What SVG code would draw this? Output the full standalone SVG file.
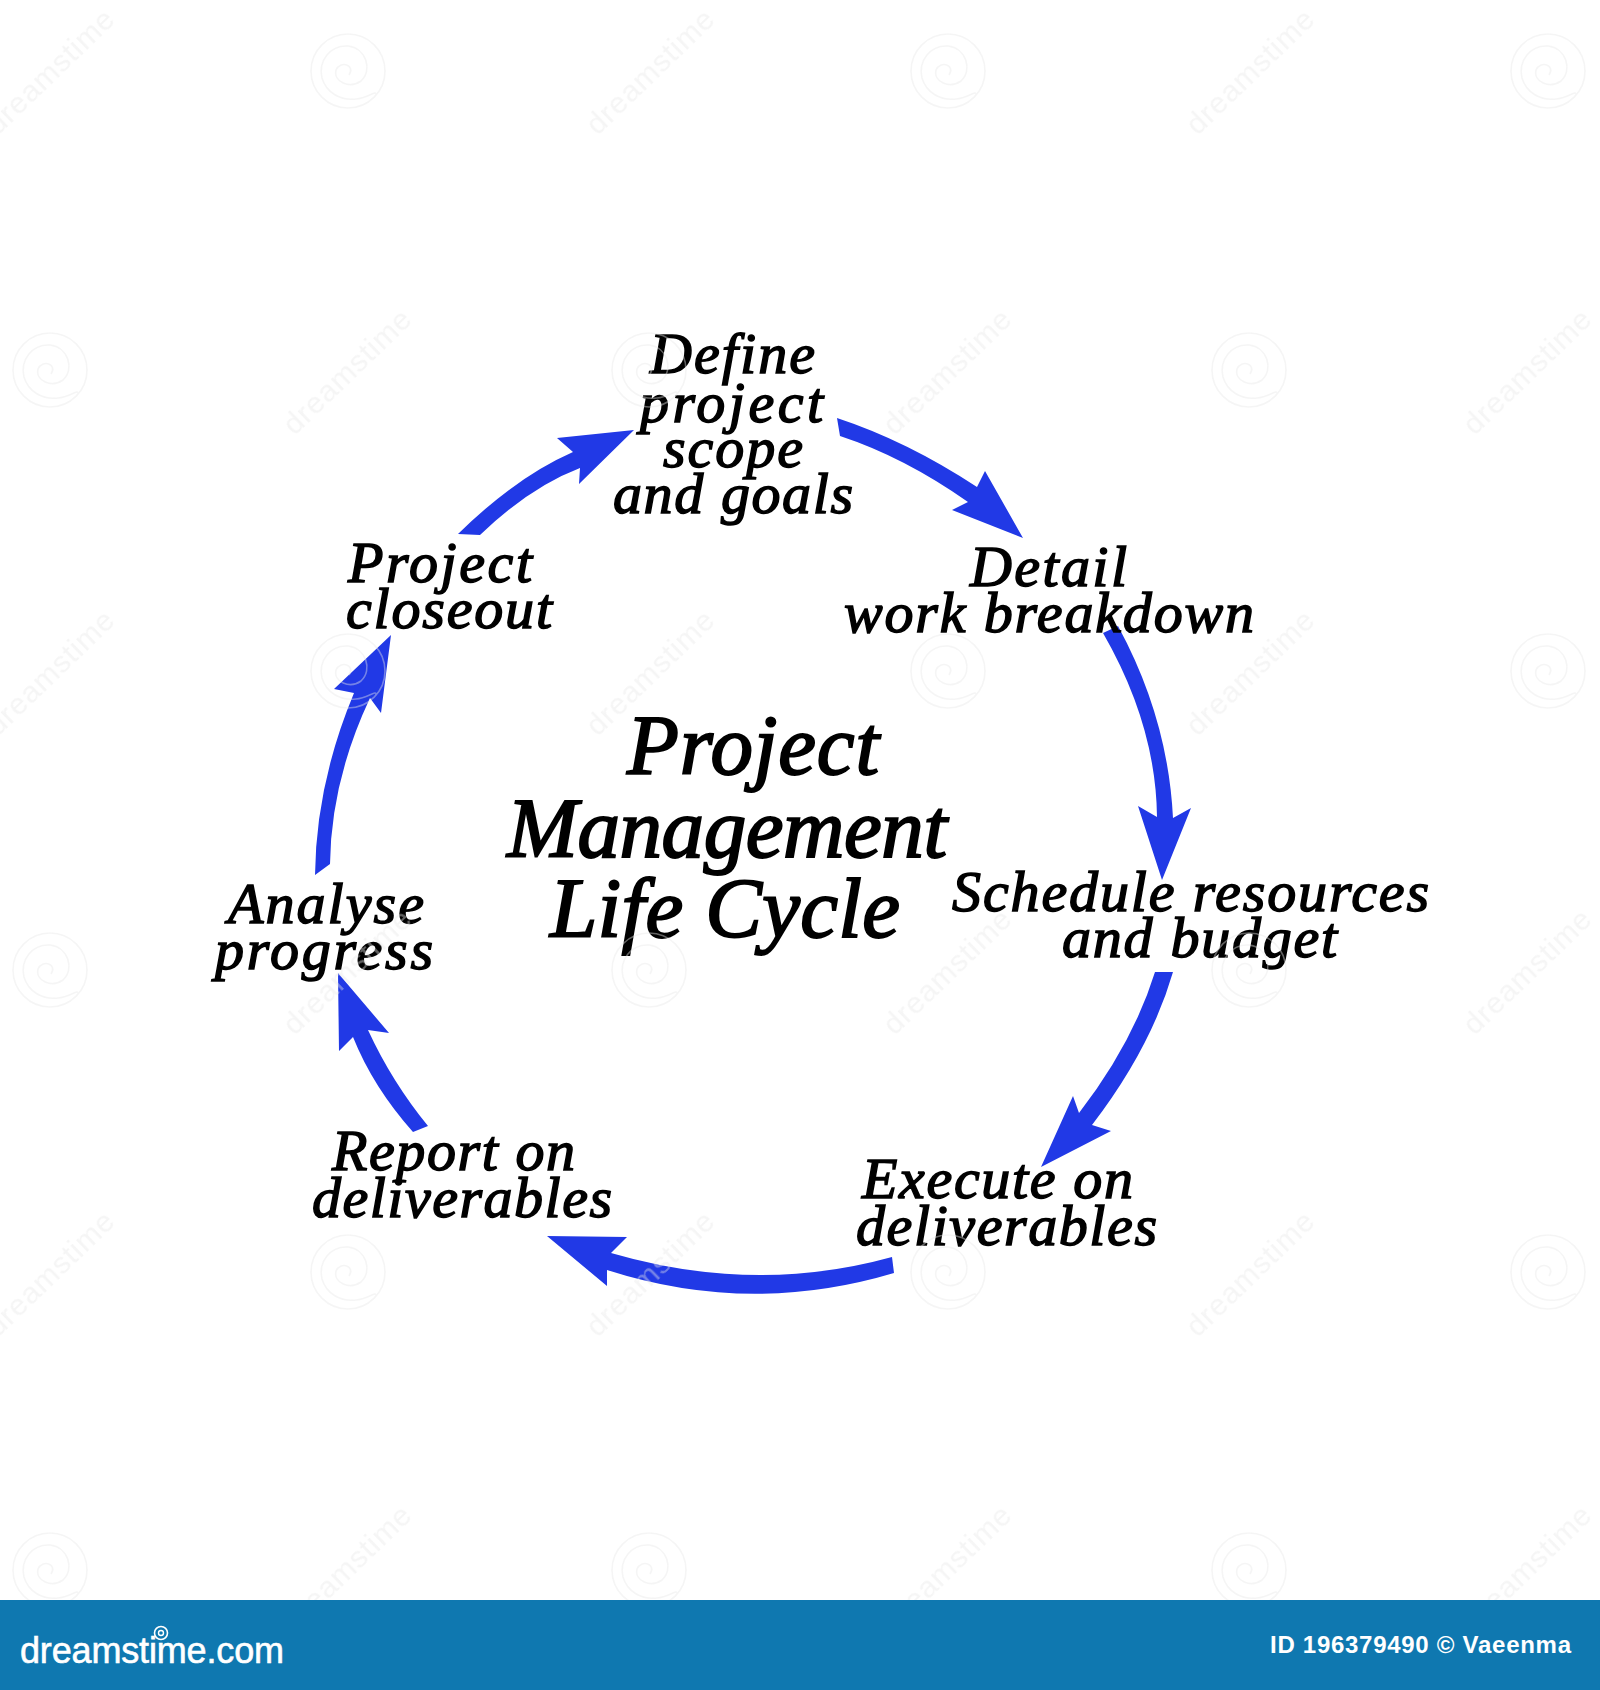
<svg xmlns="http://www.w3.org/2000/svg" width="1600" height="1690" viewBox="0 0 1600 1690">
<style>
.l{font-family:"Liberation Serif","Times New Roman",serif;font-style:italic;font-weight:400;font-size:58px;fill:#000;stroke:#000;stroke-width:1.5px}
.t{font-size:85px;stroke-width:2px}
.a{fill:#2139e6}
.wc{fill:none;stroke:#e8e8e8;stroke-width:1.6;opacity:.42}
.wt{font-family:"Liberation Sans",Arial,sans-serif;font-size:30px;fill:#e8e8e8;opacity:.42}
.f{font-family:"Liberation Sans",Arial,sans-serif;fill:#fff}
</style>
<defs>
<g id="sp"><circle r="37"/><path d="M1 4C8 -6 -8 -11 -12 -1C-15 11 2 18 13 10C25 -1 18 -23 0 -25C-18 -26 -30 -10 -26 7C-22 21 -8 30 8 28C20 27 29 18 28 24"/></g>
</defs>
<rect width="1600" height="1690" fill="#fff"/>
<g id="connectors">
<path class="a" d="M837 418Q907 441 977 487L985 471L1023 538L952 510L968 502Q904 457 840 436Z"/>
<path class="a" d="M1118 626Q1168 718 1173 818L1191 808L1162 880L1138 806L1157 817Q1156 725 1103 633Z"/>
<path class="a" d="M1173 972Q1151 1048 1092 1125L1111 1131L1041 1167L1073 1096L1079 1113Q1133 1043 1155 972Z"/>
<path class="a" d="M892 1257Q755 1295 611 1253L627 1237L547 1236L607 1286L607 1270Q750 1316 894 1273Z"/>
<path class="a" d="M428 1126Q392 1082 368 1030L389 1033L338 973L339 1051L353 1037Q373 1087 413 1132Z"/>
<path class="a" d="M315 875Q316 784 354 693L334 689L391 635L381 713L370 698Q331 781 330 864Z"/>
<path class="a" d="M458 534Q516 477 573 452L557 438L634 430L579 484L580 468Q530 487 480 535Z"/>
</g>
<g id="node-define">
<text class="l" x="650" y="373" textLength="165">Define</text>
<text class="l" x="640" y="422" textLength="183">project</text>
<text class="l" x="663" y="467" textLength="140">scope</text>
<text class="l" x="613" y="513" textLength="240">and goals</text>
</g>
<g id="node-detail">
<text class="l" x="970" y="586" textLength="157">Detail</text>
<text class="l" x="844" y="632" textLength="410">work breakdown</text>
</g>
<g id="node-schedule">
<text class="l" x="952" y="911" textLength="477">Schedule resources</text>
<text class="l" x="1062" y="957" textLength="275">and budget</text>
</g>
<g id="node-execute">
<text class="l" x="862" y="1198" textLength="271">Execute on</text>
<text class="l" x="856" y="1245" textLength="301">deliverables</text>
</g>
<g id="node-report">
<text class="l" x="332" y="1170" textLength="243">Report on</text>
<text class="l" x="312" y="1217" textLength="300">deliverables</text>
</g>
<g id="node-analyse">
<text class="l" x="228" y="923" textLength="196">Analyse</text>
<text class="l" x="215" y="969" textLength="218">progress</text>
</g>
<g id="node-closeout">
<text class="l" x="348" y="582" textLength="184">Project</text>
<text class="l" x="346" y="628" textLength="206">closeout</text>
</g>
<g id="node-title">
<text class="l t" x="627" y="774" textLength="252">Project</text>
<text class="l t" x="507" y="857" textLength="440">Management</text>
<text class="l t" x="550" y="937" textLength="350">Life Cycle</text>
</g>
<g id="watermark-spirals" class="wc">
<use href="#sp" x="348" y="71"/><use href="#sp" x="948" y="71"/><use href="#sp" x="1548" y="71"/>
<use href="#sp" x="50" y="370"/><use href="#sp" x="649" y="370"/><use href="#sp" x="1249" y="370"/>
<use href="#sp" x="348" y="671"/><use href="#sp" x="948" y="671"/><use href="#sp" x="1548" y="671"/>
<use href="#sp" x="50" y="970"/><use href="#sp" x="649" y="970"/><use href="#sp" x="1249" y="970"/>
<use href="#sp" x="348" y="1272"/><use href="#sp" x="948" y="1272"/><use href="#sp" x="1548" y="1272"/>
<use href="#sp" x="50" y="1570"/><use href="#sp" x="649" y="1570"/><use href="#sp" x="1249" y="1570"/>
</g>
<g id="watermark-text" class="wt" text-anchor="middle">
<text transform="translate(57 79) rotate(-44)" textLength="165">dreamstime</text>
<text transform="translate(657 79) rotate(-44)" textLength="165">dreamstime</text>
<text transform="translate(1257 79) rotate(-44)" textLength="165">dreamstime</text>
<text transform="translate(354 379) rotate(-44)" textLength="165">dreamstime</text>
<text transform="translate(954 379) rotate(-44)" textLength="165">dreamstime</text>
<text transform="translate(1534 379) rotate(-44)" textLength="165">dreamstime</text>
<text transform="translate(57 680) rotate(-44)" textLength="165">dreamstime</text>
<text transform="translate(657 680) rotate(-44)" textLength="165">dreamstime</text>
<text transform="translate(1257 680) rotate(-44)" textLength="165">dreamstime</text>
<text transform="translate(354 979) rotate(-44)" textLength="165">dreamstime</text>
<text transform="translate(954 979) rotate(-44)" textLength="165">dreamstime</text>
<text transform="translate(1534 979) rotate(-44)" textLength="165">dreamstime</text>
<text transform="translate(57 1281) rotate(-44)" textLength="165">dreamstime</text>
<text transform="translate(657 1281) rotate(-44)" textLength="165">dreamstime</text>
<text transform="translate(1257 1281) rotate(-44)" textLength="165">dreamstime</text>
<text transform="translate(354 1575) rotate(-44)" textLength="165">dreamstime</text>
<text transform="translate(954 1575) rotate(-44)" textLength="165">dreamstime</text>
<text transform="translate(1534 1575) rotate(-44)" textLength="165">dreamstime</text>
</g>
<g id="footer">
<rect y="1600" width="1600" height="90" fill="#0f78b0"/>
<text class="f" x="20" y="1663" font-size="36" stroke="#fff" stroke-width=".6" textLength="264">dreamstime.com</text>
<circle cx="161" cy="1633" r="6.5" fill="none" stroke="#fff" stroke-width="1.6"/>
<circle cx="161" cy="1633" r="2.5" fill="none" stroke="#fff" stroke-width="1.4"/>
<text class="f" x="1270" y="1653" font-size="24" font-weight="700" textLength="301">ID 196379490 © Vaeenma</text>
</g>
</svg>
